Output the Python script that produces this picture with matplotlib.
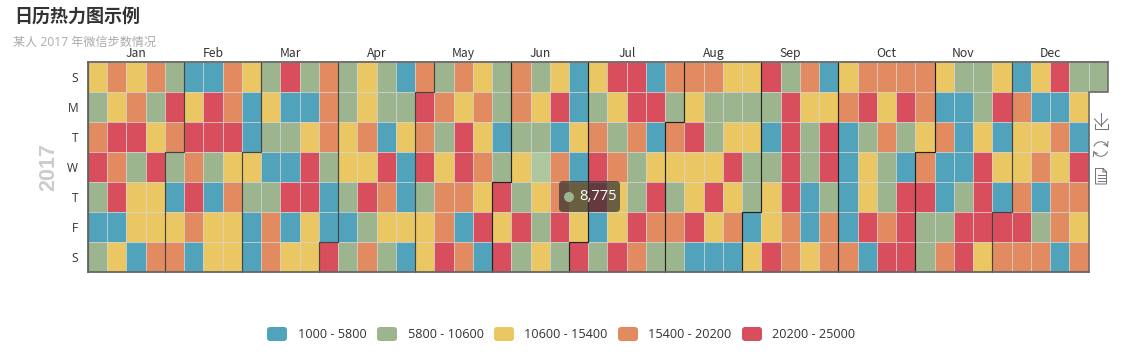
import datetime as dt
import numpy as np
import matplotlib
matplotlib.use("Agg")
import matplotlib.pyplot as plt
from matplotlib.colors import ListedColormap, BoundaryNorm
from matplotlib.patches import FancyBboxPatch, Rectangle, Circle, Arc

plt.rcParams['font.family'] = ['Open Sans', 'Noto Sans CJK SC', 'DejaVu Sans']

title = "日历热力图示例"
subtitle = "某人 2017 年微信步数情况"
year = 2017
weekday_labels = ["S", "M", "T", "W", "T", "F", "S"]
month_labels = ["Jan", "Feb", "Mar", "Apr", "May", "Jun", "Jul", "Aug", "Sep", "Oct", "Nov", "Dec"]
legend_labels = ["1000 - 5800", "5800 - 10600", "10600 - 15400", "15400 - 20200", "20200 - 25000"]
bin_colors = ["#50a3ba", "#9db58f", "#eac763", "#e28b60", "#d94e5d"]
hover_date = "2017-06-14"
hover_value = 8775

# Piece of the visual map shown for each day: one string per weekday, one letter per week
# B=1000-5800, G=5800-10600, Y=10600-15400, O=15400-20200, R=20200-25000
sunday    = "YOYOGBBOYGRGOGYG" + "BOGOYGOGYBYRRBOOOYYR" + "GOBYOOOOYGGYBYRGG"
monday    = "GYOGRYROBYBBOGYG" + "GROYOGOYRBGYRRGYGGGG" + "RYYORYROBBGROBBY"
tuesday   = "ORRYORRRBGGYOYOB" + "YOGRYBGGBYOGOBORGYYB" + "RGRBGOGYOBYBYYOB"
wednesday = "ROGRGOGYYBBRGYYR" + "BRYROGYGOBROGYYYYRGG" + "RGRBYGBOBBRYYOYR"
thursday  = "GRYYBRBOGGRRBGRO" + "BGOOYRGYOYRYGRGYRYGY" + "RBGBYGRRBGRBOBOO"
friday    = "BBYYYOYYBOBYBBGY" + "YYOBRYRGRYBYROORYOBY" + "OBOBRORGGRRRRGOY"
saturday  = "GYBOOBYYBOYYRGOG" + "BYROBRGYGRGROGGBBBYR" + "OYOOBRRGORYOOOBO"

week_rows = [sunday, monday, tuesday, wednesday, thursday, friday, saturday]
letters = "BGYOR"
start = dt.date(year, 1, 1)
n_days = (dt.date(year, 12, 31) - start).days + 1


def cell(d):
    off = (d - start).days + start.isoweekday() % 7
    return off // 7, off % 7


W, H = 1147, 362
fig = plt.figure(figsize=(W / 100, H / 100), dpi=100, facecolor="white")
L, T, R, B = 88, 62, 1107.75, 272
ax = fig.add_axes([L / W, 1 - B / H, (R - L) / W, (B - T) / H])
cmap = ListedColormap(bin_colors)
norm = BoundaryNorm(np.arange(-0.5, 5.5), cmap.N)
hd = dt.date.fromisoformat(hover_date)
for i in range(n_days):
    d = start + dt.timedelta(days=i)
    col, row = cell(d)
    face = "#aec79e" if d == hd else cmap(norm(letters.index(week_rows[row][col])))
    ax.add_patch(Rectangle((col, row), 1, 1, facecolor=face, edgecolor="#d4d4d4", lw=0.45, zorder=1))
ax.set_xlim(0, 53)
ax.set_ylim(7, 0)
for s in ax.spines.values():
    s.set_visible(False)

# month outlines
centers = []
for m in range(1, 13):
    first = dt.date(year, m, 1)
    last = (dt.date(year + 1, 1, 1) if m == 12 else dt.date(year, m + 1, 1)) - dt.timedelta(days=1)
    c0, r0 = cell(first)
    c1, r1 = cell(last)
    centers.append((c0 + c1 + 1) / 2)
    if r0 == 0:
        xs, ys = [c0, c0], [0, 7]
    else:
        xs, ys = [c0 + 1, c0 + 1, c0, c0], [0, r0, r0, 7]
    color = "#222222" if m in (6, 7, 8, 9, 10, 11) else "#444444"
    ax.plot(xs, ys, color=color, lw=0.85, zorder=3, clip_on=False, solid_joinstyle="miter")
c1, r1 = cell(dt.date(year, 12, 31))
ax.plot([c1, c1, c1 + 1, c1 + 1], [7, r1 + 1, r1 + 1, 0], color="#666666", lw=1.1, zorder=3, clip_on=False,
        solid_joinstyle="miter")
ax.plot([0, 53], [0, 0], color="#666666", lw=1.3, zorder=3, clip_on=False)
ax.plot([0, c1], [7, 7], color="#666666", lw=1.3, zorder=3, clip_on=False)
ax.plot([0, 0], [0, 7], color="#666666", lw=1.3, zorder=3, clip_on=False)

# real tick labels
ax.xaxis.tick_top()
ax.set_xticks(centers, month_labels, fontsize=8.8, color="#333333", va="baseline",
              fontfamily="Noto Sans CJK SC")
ax.set_yticks(np.arange(7) + 0.5, weekday_labels, fontsize=8.6, color="#333333")
ax.tick_params(axis="both", length=0)
ax.tick_params(axis="x", pad=3.8)
ax.tick_params(axis="y", pad=7)

# overlay in pixels
ov = fig.add_axes([0, 0, 1, 1], zorder=5)
ov.set_xlim(0, W)
ov.set_ylim(H, 0)
ov.axis("off")

ov.text(14, 17, title, fontsize=13, fontweight="bold", color="#333333", va="center", ha="left")
ov.text(13, 42, subtitle, fontsize=8.7, color="#aaaaaa", va="center", ha="left")
ov.text(49, 167, str(year), rotation=90, fontsize=15.5, fontweight="bold", color="#cccccc",
        family="Liberation Sans", va="center", ha="center")

# legend
sw_x = [267, 377, 494, 618, 742]
tx_x = [298, 408, 524, 648, 772]
for sx, tx, lab, colr in zip(sw_x, tx_x, legend_labels, bin_colors):
    ov.add_patch(FancyBboxPatch((sx, 327), 20, 14, boxstyle="round,pad=0,rounding_size=3",
                                facecolor=colr, edgecolor="none"))
    ov.text(tx, 334, lab, fontsize=9.1, color="#333333", va="center", ha="left")

# tooltip
ov.add_patch(FancyBboxPatch((563, 185), 53, 23, boxstyle="round,pad=4,rounding_size=4",
                            facecolor=(50 / 255, 50 / 255, 50 / 255, 0.7), edgecolor="none"))
ov.add_patch(Circle((569, 197), 5, facecolor=bin_colors[1], edgecolor="none"))
ov.text(579, 196.5, f"{hover_value:,}", fontsize=10.6, color="white", va="center", ha="left")

# toolbox icons
ic = "#777777"
lw = 0.75
ov.plot([1101, 1101], [113, 125.5], color=ic, lw=lw)
ov.plot([1094.5, 1101, 1107.5], [119, 125.5, 119], color=ic, lw=lw)
ov.plot([1094.5, 1094.5, 1107.5, 1107.5], [124, 128.5, 128.5, 124], color=ic, lw=lw)
ov.add_patch(Arc((1100.7, 149), 14.5, 14.5, theta1=20, theta2=165, color=ic, lw=lw))
ov.add_patch(Arc((1100.7, 149), 14.5, 14.5, theta1=200, theta2=345, color=ic, lw=lw))
ov.plot([1104, 1107.5, 1108], [144.5, 146, 141.5], color=ic, lw=lw)
ov.plot([1097.5, 1093.8, 1093.3], [153.5, 152, 156.5], color=ic, lw=lw)
ov.plot([1103, 1095.5, 1095.5, 1106.5, 1106.5, 1103, 1103, 1106.5],
        [168.5, 168.5, 184, 184, 172, 168.5, 172, 172], color=ic, lw=lw)
for yy in (174.5, 177.5, 180.5):
    ov.plot([1097.5, 1104.5], [yy, yy], color=ic, lw=lw)

fig.savefig("out.png", dpi=100, facecolor="white")
